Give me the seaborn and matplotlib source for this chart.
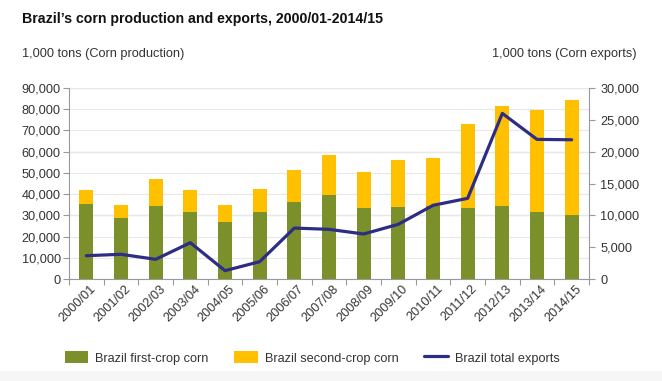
import numpy as np
import pandas as pd
import matplotlib
matplotlib.use("Agg")
import matplotlib.pyplot as plt
import matplotlib.transforms as mtransforms
import seaborn as sns
from matplotlib.patches import Patch, Rectangle
from matplotlib.lines import Line2D

seasons = ["2000/01", "2001/02", "2002/03", "2003/04", "2004/05", "2005/06", "2006/07",
           "2007/08", "2008/09", "2009/10", "2010/11", "2011/12", "2012/13", "2013/14", "2014/15"]
first_crop = [35300, 28900, 34400, 31400, 27000, 31400, 36300, 39700, 33400, 33900,
              34500, 33400, 34400, 31400, 30000]
second_crop = [6700, 5800, 12700, 10400, 7700, 10800, 14900, 18700, 17100, 22000,
               22500, 39600, 46900, 48300, 54400]
exports = [3660, 3880, 3090, 5700, 1310, 2720, 8000, 7800, 7070, 8590,
           11570, 12670, 26010, 21930, 21870]

GREEN = "#7b8f2b"
YELLOW = "#ffc000"
NAVY = "#2e2d86"
TXT = "#333333"
FS = 9.2

df = pd.DataFrame({
    "season": seasons,
    "first": first_crop,
    "total": np.array(first_crop) + np.array(second_crop),
    "exports": exports,
})

sns.set_theme(style="white")
plt.rcParams["font.family"] = ["Liberation Sans", "DejaVu Sans"]

fig = plt.figure(figsize=(6.62, 3.81), dpi=100)
ax = fig.add_axes([69/662, 1 - 279/381, (589-69)/662, (279-88)/381])

sns.barplot(data=df, x="season", y="total", color=YELLOW, width=0.4, ax=ax,
            saturation=1, edgecolor="none")
sns.barplot(data=df, x="season", y="first", color=GREEN, width=0.4, ax=ax,
            saturation=1, edgecolor="none")

ax.set_ylim(0, 90000)
ax.set_xlim(-0.5, len(seasons) - 0.5)
ax.set_yticks(np.arange(0, 90001, 10000))
ax.set_yticklabels([f"{v:,}" for v in range(0, 90001, 10000)], fontsize=FS, color=TXT)
ax.set_xlabel("")
ax.set_ylabel("")
ax.set_axisbelow(True)
ax.yaxis.grid(True, color="#e8e8e8", linewidth=0.8)
for v in (30000, 60000, 90000):
    ax.axhline(v, color="#a0a0a0", linewidth=0.8, zorder=0.5)

ax.set_xticks(np.arange(len(seasons)))
ax.set_xticklabels(seasons, rotation=45, ha="right", va="center", rotation_mode="anchor",
                   fontsize=FS, color=TXT)
ax.tick_params(axis="x", length=0, pad=3)
ax.set_xticks(np.arange(len(seasons) + 1) - 0.5, minor=True)
ax.tick_params(axis="x", which="minor", length=4, color="#999999", width=0.8, bottom=True)
ax.tick_params(axis="y", length=4, color="#999999", width=0.8, left=True, pad=2)

# shift rotated category labels (after all tick_params calls)
offset = mtransforms.ScaledTranslation(8/100, -4/100, fig.dpi_scale_trans)
for lab in ax.get_xticklabels():
    lab.set_transform(lab.get_transform() + offset)

for s in ("top", "right"):
    ax.spines[s].set_visible(False)
for s in ("left", "bottom"):
    ax.spines[s].set_color("#999999")
    ax.spines[s].set_linewidth(0.8)

ax2 = ax.twinx()
sns.lineplot(x=np.arange(len(seasons)), y=df["exports"], ax=ax2, color=NAVY,
             linewidth=2.3, legend=False)
ax2.set_ylim(0, 30000)
ax2.set_xlim(-0.5, len(seasons) - 0.5)
ax2.set_yticks(np.arange(0, 30001, 5000))
ax2.set_yticklabels([f"{v:,}" for v in range(0, 30001, 5000)], fontsize=FS, color=TXT)
ax2.set_ylabel("")
ax2.tick_params(axis="y", length=4, color="#999999", width=0.8, right=True, pad=4)
for s in ("top", "left", "bottom"):
    ax2.spines[s].set_visible(False)
ax2.spines["right"].set_color("#999999")
ax2.spines["right"].set_linewidth(0.8)
ax2.grid(False)

fig.text(22/662, 1 - 19.5/381, "Brazil’s corn production and exports, 2000/01-2014/15",
         fontsize=10.15, fontweight="bold", color="#111111", va="center", ha="left")
fig.text(22/662, 1 - 54/381, "1,000 tons (Corn production)", fontsize=FS,
         color=TXT, va="center", ha="left")
fig.text(637/662, 1 - 54/381, "1,000 tons (Corn exports)", fontsize=FS,
         color=TXT, va="center", ha="right")

handles = [Patch(facecolor=GREEN, edgecolor="none"),
           Patch(facecolor=YELLOW, edgecolor="none"),
           Line2D([0], [0], color=NAVY, linewidth=2.3)]
labels = ["Brazil first-crop corn", "Brazil second-crop corn", "Brazil total exports"]
fig.legend(handles, labels, loc="center left", bbox_to_anchor=(53/662, 1 - 358/381),
           ncol=3, frameon=False, fontsize=FS, handlelength=1.85, handleheight=1.05,
           handletextpad=0.55, columnspacing=2.0, labelcolor=TXT)

fig.patches.append(Rectangle((0, 0), 1, 10/381, transform=fig.transFigure,
                             facecolor="#f6f6f6", edgecolor="none", zorder=-1))

fig.savefig("out.png", dpi=100, facecolor="white")
